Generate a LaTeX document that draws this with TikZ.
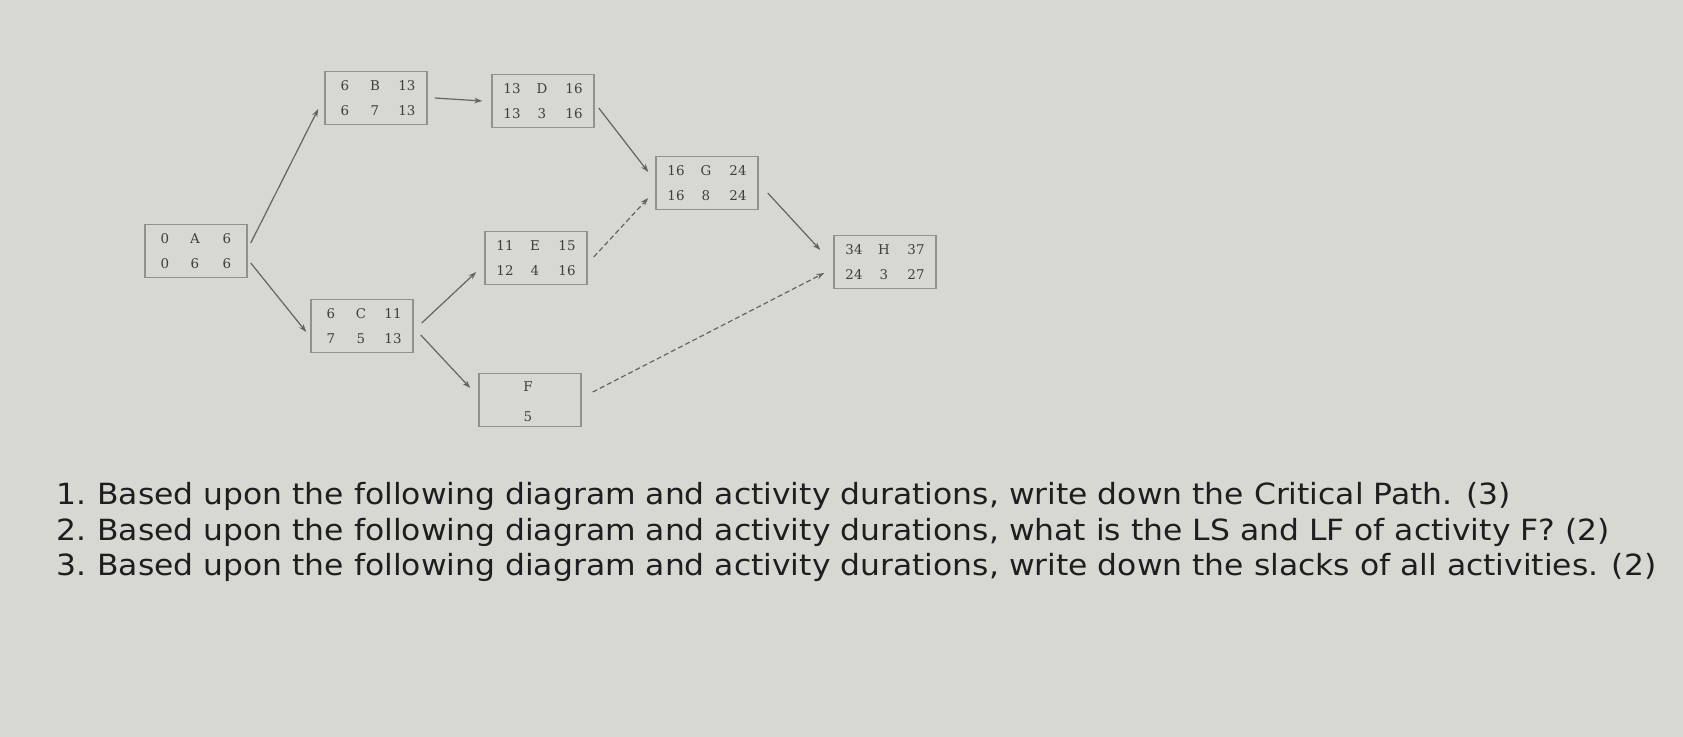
\documentclass[tikz,border=0pt]{standalone}
\usepackage{fontspec}
\setmainfont{DejaVu Sans}
\newfontfamily\boxfont{DejaVu Serif}
\newfontfamily\qfont[FakeStretch=1.075]{DejaVu Sans}
\usetikzlibrary{arrows.meta,calc}
\definecolor{paper}{RGB}{216,216,210}
\definecolor{boxline}{RGB}{145,145,141}
\definecolor{boxtext}{RGB}{62,62,60}
\definecolor{conn}{RGB}{100,100,97}
\definecolor{qtext}{RGB}{30,30,32}
\tikzset{
  abox/.style={draw=boxline, line width=0.75pt, minimum width=51pt, minimum height=26.5pt, inner sep=0pt},
  btxt/.style={anchor=base, inner sep=0pt, text=boxtext, font=\boxfont\fontsize{6.7}{8}\selectfont},
  conn/.style={draw=conn, line width=0.6pt, -{Stealth[length=4pt,width=2.8pt]}},
  dconn/.style={conn, dash pattern=on 2.5pt off 1.5pt},
  qnum/.style={anchor=base east, inner sep=0pt, text=qtext, font=\qfont\fontsize{14.6}{17}\selectfont},
  qline/.style={anchor=base west, inner sep=0pt, text=qtext, font=\qfont\fontsize{14.6}{17}\selectfont},
}
\newcommand\actbox[9]{%
  \node[abox] (#1) at (#2,#3) {};
  \node[btxt] (#1ta) at ($(#1)+(-31,-7)$) {#4};
  \node[btxt] (#1tb) at ($(#1)+(-1,-7)$) {#5};
  \node[btxt] (#1tc) at ($(#1)+(31,-7)$) {#6};
  \node[btxt] (#1td) at ($(#1)+(-31,18)$) {#7};
  \node[btxt] (#1te) at ($(#1)+(-1,18)$) {#8};
  \node[btxt] (#1tf) at ($(#1)+(31,18)$) {#9};
}
\begin{document}
\begin{tikzpicture}[x=0.5pt,y=-0.5pt]
\fill[paper] (0,0) rectangle (1683,737);
\useasboundingbox (0,0) rectangle (1683,737);

\actbox{a}{196}{251}{0}{A}{6}{0}{6}{6}
\actbox{b}{376}{98}{6}{B}{13}{6}{7}{13}
\actbox{d}{543}{101}{13}{D}{16}{13}{3}{16}
\actbox{e}{536}{258}{11}{E}{15}{12}{4}{16}
\actbox{c}{362}{326}{6}{C}{11}{7}{5}{13}
\actbox{g}{707}{183}{16}{G}{24}{16}{8}{24}
\actbox{h}{885}{262}{34}{H}{37}{24}{3}{27}
\node[abox] (f) at (530,400) {};
\node[btxt] (fta) at ($(f)+(-2,-8)$) {F};
\node[btxt] (ftb) at ($(f)+(-2,22)$) {5};

\draw[conn] ($(a.east)+(3,-8)$) -- ($(b.west)+(-6,11)$);
\draw[conn] ($(a.east)+(3,12)$) -- ($(c.west)+(-4,6)$);
\draw[conn] ($(b.east)+(7,0)$) -- ($(d.west)+(-9,0)$);
\draw[conn] ($(d.east)+(4,7)$) -- ($(g.west)+(-7,-11)$);
\draw[conn] ($(c.east)+(8,-3)$) -- ($(e.west)+(-8,14)$);
\draw[conn] ($(c.east)+(7,9)$) -- ($(f.west)+(-8,-12)$);
\draw[dconn] ($(e.east)+(6,-1)$) -- ($(g.west)+(-7,15)$);
\draw[conn] ($(g.east)+(9,10)$) -- ($(h.west)+(-13,-12)$);
\draw[dconn] ($(f.east)+(11,-8)$) -- ($(h.west)+(-9,11)$);

\node[qnum] (n1) at (87,505) {1.};
\node[qline] (q1) at (97,505) {Based upon the following diagram and activity durations, write down the Critical Path. (3)};
\node[qnum] (n2) at (87,541) {2.};
\node[qline] (q2) at (97,541) {Based upon the following diagram and activity durations, what is the LS and LF of activity F? (2)};
\node[qnum] (n3) at (87,576) {3.};
\node[qline] (q3) at (97,576) {Based upon the following diagram and activity durations, write down the slacks of all activities. (2)};
\end{tikzpicture}
\end{document}
